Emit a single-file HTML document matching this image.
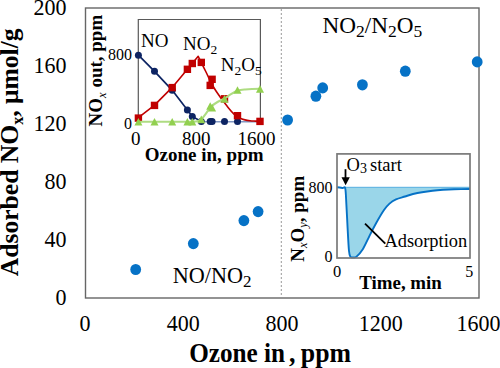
<!DOCTYPE html>
<html><head><meta charset="utf-8">
<style>
html,body{margin:0;padding:0;background:#fff;width:500px;height:368px;overflow:hidden}
svg{display:block}
text{font-family:"Liberation Serif",serif;fill:#000}
.b{font-weight:bold}
</style></head><body>
<svg width="500" height="368" viewBox="0 0 500 368">
<rect x="85.5" y="8" width="393.5" height="290" fill="none" stroke="#666" stroke-width="1.4"/>
<line x1="281.3" y1="9" x2="281.3" y2="297" stroke="#999" stroke-width="1" stroke-dasharray="2 2"/>
<text font-size="22" text-anchor="end" transform="translate(66.5,305.1) scale(1,1.07)">0</text>
<text font-size="22" text-anchor="end" transform="translate(66.5,247.1) scale(1,1.07)">40</text>
<text font-size="22" text-anchor="end" transform="translate(66.5,189.1) scale(1,1.07)">80</text>
<text font-size="22" text-anchor="end" transform="translate(66.5,131.1) scale(1,1.07)">120</text>
<text font-size="22" text-anchor="end" transform="translate(66.5,73.1) scale(1,1.07)">160</text>
<text font-size="22" text-anchor="end" transform="translate(66.5,15.1) scale(1,1.07)">200</text>
<text font-size="22" text-anchor="middle" transform="translate(85,331.3) scale(1,1.07)">0</text>
<text font-size="22" text-anchor="middle" transform="translate(183.3,331.3) scale(1,1.07)">400</text>
<text font-size="22" text-anchor="middle" transform="translate(282,331.3) scale(1,1.07)">800</text>
<text font-size="22" text-anchor="middle" transform="translate(380.8,331.3) scale(1,1.07)">1200</text>
<text font-size="22" text-anchor="middle" transform="translate(478.5,331.3) scale(1,1.07)">1600</text>
<text id="xt1" class="b" font-size="25.2" transform="translate(189.2,362.4) scale(1,1.1)">Ozone in</text>
<text id="xt2" class="b" font-size="25.8" transform="translate(289.0,362.4) scale(1,1.08)">,</text>
<text id="xt3" class="b" font-size="25.8" transform="translate(300.8,362.4) scale(1,1.08)">ppm</text>
<text id="yt" class="b" font-size="25.6" text-anchor="middle" transform="translate(17.9,152.3) rotate(-90) scale(1.0,1)">Adsorbed NO<tspan font-size="16" dy="5">x</tspan><tspan dy="-5">, μmol/g</tspan></text>
<g fill="#0672C6">
<ellipse cx="135.7" cy="269.5" rx="5.4" ry="5.6"/>
<ellipse cx="193.3" cy="243.6" rx="5.4" ry="5.6"/>
<ellipse cx="243.9" cy="220.6" rx="5.4" ry="5.6"/>
<ellipse cx="258.1" cy="211.6" rx="5.4" ry="5.6"/>
<ellipse cx="287.6" cy="120.0" rx="5.4" ry="5.6"/>
<ellipse cx="315.9" cy="96.2" rx="5.4" ry="5.6"/>
<ellipse cx="322.7" cy="87.9" rx="5.4" ry="5.6"/>
<ellipse cx="362.4" cy="84.8" rx="5.4" ry="5.6"/>
<ellipse cx="405.3" cy="71.2" rx="5.4" ry="5.6"/>
<ellipse cx="477.2" cy="61.9" rx="5.4" ry="5.6"/>
</g>
<text id="t1" font-size="22.2" transform="translate(172.8,282.5) scale(1,1.04)">NO/NO<tspan font-size="17" dy="4">2</tspan></text>
<text id="t2" font-size="23.2" transform="translate(322.5,32.8) scale(1,1.0)">NO<tspan font-size="17.5" dy="4">2</tspan><tspan dy="-4">/N</tspan><tspan font-size="17.5" dy="4">2</tspan><tspan dy="-4">O</tspan><tspan font-size="17.5" dy="4">5</tspan></text>
<path d="M138.3,122 L138.3,19.5 L260.4,19.5 L260.4,122" fill="none" stroke="#595959" stroke-width="1.2"/>
<text font-size="16" text-anchor="end" transform="translate(132,59.6) scale(1,1.04)">800</text>
<text font-size="16" text-anchor="end" transform="translate(132,128.6) scale(1,1.04)">0</text>
<text font-size="19" text-anchor="middle" transform="translate(135.7,145.2) scale(1,1.0)">0</text>
<text font-size="19" text-anchor="middle" transform="translate(196.2,145.2) scale(1,1.0)">800</text>
<text font-size="19" text-anchor="middle" transform="translate(256.6,145.2) scale(1,1.0)">1600</text>
<text id="i1x" class="b" font-size="19" transform="translate(144.8,160.7) scale(1,1.0)">Ozone in, ppm</text>
<text id="i1y" class="b" font-size="19" text-anchor="middle" transform="translate(102.1,70.6) rotate(-90) scale(1.0,1)">NO<tspan font-size="12.5" dy="4" font-style="italic" font-weight="normal">x</tspan><tspan dy="-4"> out, ppm</tspan></text>
<text id="lno" font-size="19" transform="translate(141.0,46.7) scale(1,1.0)">NO</text>
<text id="lno2" font-size="19" transform="translate(183.0,49.8) scale(1,1.0)">NO<tspan font-size="13.5" dy="4.2">2</tspan></text>
<text id="ln2o5" font-size="19" transform="translate(220.8,71.0) scale(1,1.0)">N<tspan font-size="13.5" dy="4">2</tspan><tspan dy="-4">O</tspan><tspan font-size="13.5" dy="4">5</tspan></text>
<path d="M201.3,121.8 L260,121.8" fill="none" stroke="#8197C2" stroke-width="1.6"/>
<path d="M138.4,55.2 L154.3,71.2 L172.3,90.3 L187.4,110 L192.3,116.4 L201.3,121.5" fill="none" stroke="#0D2463" stroke-width="1.7"/>
<g fill="#0D2463">
<circle cx="138.4" cy="55.2" r="3.5"/>
<circle cx="154.5" cy="71.2" r="3.5"/>
<circle cx="172.2" cy="90.3" r="3.5"/>
<circle cx="187.4" cy="110.0" r="3.5"/>
<circle cx="192.3" cy="116.4" r="3.5"/>
<circle cx="201.3" cy="121.5" r="3.5"/>
<circle cx="210.2" cy="121.5" r="3.5"/>
<circle cx="212.1" cy="121.5" r="3.5"/>
<circle cx="224.5" cy="121.5" r="3.5"/>
<circle cx="237.5" cy="121.5" r="3.5"/>
</g>
<path d="M137.7,118.1 L154.3,105.4 L172.2,87.4 L187.4,69.3 L192.2,63.5 L198.2,56.3 L201.2,62.4  C201.9,63.8 204.5,69.0 206.0,72.0 C207.5,75.0 209.5,79.7 211.0,82.5 C212.5,85.3 214.3,88.5 216.0,91.0 C217.7,93.5 220.1,97.0 222.0,99.5 C223.9,102.0 226.7,105.8 228.5,108.0 C230.3,110.2 232.4,112.7 234.0,114.2 C235.6,115.7 237.5,117.0 239.0,117.8 C240.5,118.6 242.3,119.2 244.0,119.6 C245.7,120.0 248.3,120.5 250.0,120.7 C251.7,120.9 253.5,121.0 255.0,121.1 C256.5,121.2 259.2,121.4 260.0,121.4" fill="none" stroke="#C00000" stroke-width="1.6" stroke-linejoin="round"/>
<g fill="#C00000">
<rect x="134.7" y="114.4" width="7.4" height="7.4"/>
<rect x="150.8" y="101.7" width="7.4" height="7.4"/>
<rect x="168.5" y="83.9" width="7.4" height="7.4"/>
<rect x="183.7" y="65.6" width="7.4" height="7.4"/>
<rect x="188.6" y="59.8" width="7.4" height="7.4"/>
<rect x="197.6" y="58.7" width="7.4" height="7.4"/>
<rect x="206.5" y="81.7" width="7.4" height="7.4"/>
<rect x="208.4" y="75.6" width="7.4" height="7.4"/>
<rect x="220.8" y="95.1" width="7.4" height="7.4"/>
<rect x="233.8" y="112.0" width="7.4" height="7.4"/>
<rect x="256.3" y="117.7" width="7.4" height="7.4"/>
</g>
<path d="M138.4,121.7 L192.3,121.7  C193.0,121.6 195.7,121.6 197.0,121.3 C198.3,121.0 200.1,120.4 201.3,119.4 C202.5,118.4 203.5,116.7 205.0,114.8 C206.5,112.9 209.1,108.7 211.0,106.8 C212.9,104.9 215.5,103.2 217.5,102.0 C219.5,100.8 222.6,99.7 224.6,98.5 C226.6,97.3 229.0,95.4 231.0,94.2 C233.0,93.0 235.9,91.3 238.0,90.6 C240.1,89.9 242.9,89.7 245.0,89.5 C247.1,89.3 249.8,89.1 252.0,89.0 C254.2,88.9 258.8,88.8 260.0,88.8" fill="none" stroke="#AEDC82" stroke-width="2.1"/>
<g fill="#92D050">
<path d="M138.4,118.0 l4,7.6 h-8z"/>
<path d="M154.5,118.0 l4,7.6 h-8z"/>
<path d="M172.2,118.0 l4,7.6 h-8z"/>
<path d="M187.4,118.0 l4,7.6 h-8z"/>
<path d="M192.3,118.0 l4,7.6 h-8z"/>
<path d="M201.3,115.6 l4,7.6 h-8z"/>
<path d="M210.2,102.2 l4,7.6 h-8z"/>
<path d="M212.1,104.0 l4,7.6 h-8z"/>
<path d="M224.5,95.1 l4,7.6 h-8z"/>
<path d="M237.5,86.2 l4,7.6 h-8z"/>
<path d="M260.0,85.1 l4,7.6 h-8z"/>
</g>
<path d="M337.0,187.3 C337.9,187.4 341.1,187.8 342.5,188.0 C343.9,188.2 344.7,185.8 345.3,188.6 C345.9,191.4 346.0,198.4 346.4,205.0 C346.8,211.6 347.2,220.3 347.6,228.0 C348.0,235.7 348.5,246.2 349.0,251.0 C349.5,255.8 349.8,255.7 350.5,256.8 C351.2,257.9 352.0,257.4 353.0,257.4 C354.0,257.4 354.9,258.0 356.5,256.6 C358.1,255.2 360.6,252.7 362.8,249.2 C365.0,245.7 367.3,240.2 369.5,235.8 C371.7,231.4 373.8,227.3 376.2,223.0 C378.6,218.7 381.8,213.2 384.0,210.0 C386.2,206.8 387.5,205.4 389.5,203.6 C391.5,201.8 393.4,200.6 396.0,199.4 C398.6,198.2 402.2,197.4 405.0,196.5 C407.8,195.6 410.2,194.7 413.0,194.0 C415.8,193.3 418.7,192.7 422.0,192.2 C425.3,191.7 429.1,191.2 432.6,190.8 C436.1,190.4 439.4,190.1 443.0,189.8 C446.6,189.5 449.5,189.3 454.0,189.2 C458.5,189.1 467.3,189.0 470.0,189.0 L470,187.3 L337.0,187.3 Z" fill="#9AD6E9"/>
<line x1="345" y1="187.3" x2="470" y2="187.3" stroke="#55AEE0" stroke-width="1"/>
<path d="M337.0,187.3 C337.9,187.4 341.1,187.8 342.5,188.0 C343.9,188.2 344.7,185.8 345.3,188.6 C345.9,191.4 346.0,198.4 346.4,205.0 C346.8,211.6 347.2,220.3 347.6,228.0 C348.0,235.7 348.5,246.2 349.0,251.0 C349.5,255.8 349.8,255.7 350.5,256.8 C351.2,257.9 352.0,257.4 353.0,257.4 C354.0,257.4 354.9,258.0 356.5,256.6 C358.1,255.2 360.6,252.7 362.8,249.2 C365.0,245.7 367.3,240.2 369.5,235.8 C371.7,231.4 373.8,227.3 376.2,223.0 C378.6,218.7 381.8,213.2 384.0,210.0 C386.2,206.8 387.5,205.4 389.5,203.6 C391.5,201.8 393.4,200.6 396.0,199.4 C398.6,198.2 402.2,197.4 405.0,196.5 C407.8,195.6 410.2,194.7 413.0,194.0 C415.8,193.3 418.7,192.7 422.0,192.2 C425.3,191.7 429.1,191.2 432.6,190.8 C436.1,190.4 439.4,190.1 443.0,189.8 C446.6,189.5 449.5,189.3 454.0,189.2 C458.5,189.1 467.3,189.0 470.0,189.0" fill="none" stroke="#0672C6" stroke-width="1.9" stroke-linejoin="round"/>
<rect x="337.0" y="153.9" width="133" height="104.1" fill="none" stroke="#7a7a7a" stroke-width="1.7"/>
<line x1="345.5" y1="169.2" x2="345.5" y2="179" stroke="#000" stroke-width="1.8"/>
<path d="M341.5,177.2 L349.8,177.2 L345.6,185.2 Z" fill="#000"/>
<text id="o3" font-size="18.5" transform="translate(346.6,170.8) scale(1,1.0)">O<tspan font-size="14" dy="2.4">3</tspan><tspan dy="-2.4" dx="3">start</tspan></text>
<line x1="365" y1="223.6" x2="385.3" y2="243.6" stroke="#000" stroke-width="1.8"/>
<text id="ads" font-size="18.4" transform="translate(384.4,246.6) scale(1,1.0)">Adsorption</text>
<text font-size="16" text-anchor="end" transform="translate(332.5,193.4) scale(1,1.0)">800</text>
<text font-size="16" text-anchor="end" transform="translate(332.5,262.4) scale(1,1.0)">0</text>
<text font-size="16.5" text-anchor="middle" transform="translate(337.1,276.7) scale(1,1.0)">0</text>
<text font-size="16" text-anchor="middle" transform="translate(469.2,277.3) scale(1,1.0)">5</text>
<text id="i2x" class="b" font-size="18.9" transform="translate(359.3,289) scale(1,1.0)">Time, min</text>
<text id="i2y" class="b" font-size="19" text-anchor="middle" transform="translate(304.2,218.8) rotate(-90) scale(1.0,1)">N<tspan font-size="12.5" dy="3" font-style="italic" font-weight="normal">x</tspan><tspan dy="-3">O</tspan><tspan font-size="12.5" dy="3" font-style="italic" font-weight="normal">y</tspan><tspan dy="-3">, ppm</tspan></text>
</svg>
</body></html>
